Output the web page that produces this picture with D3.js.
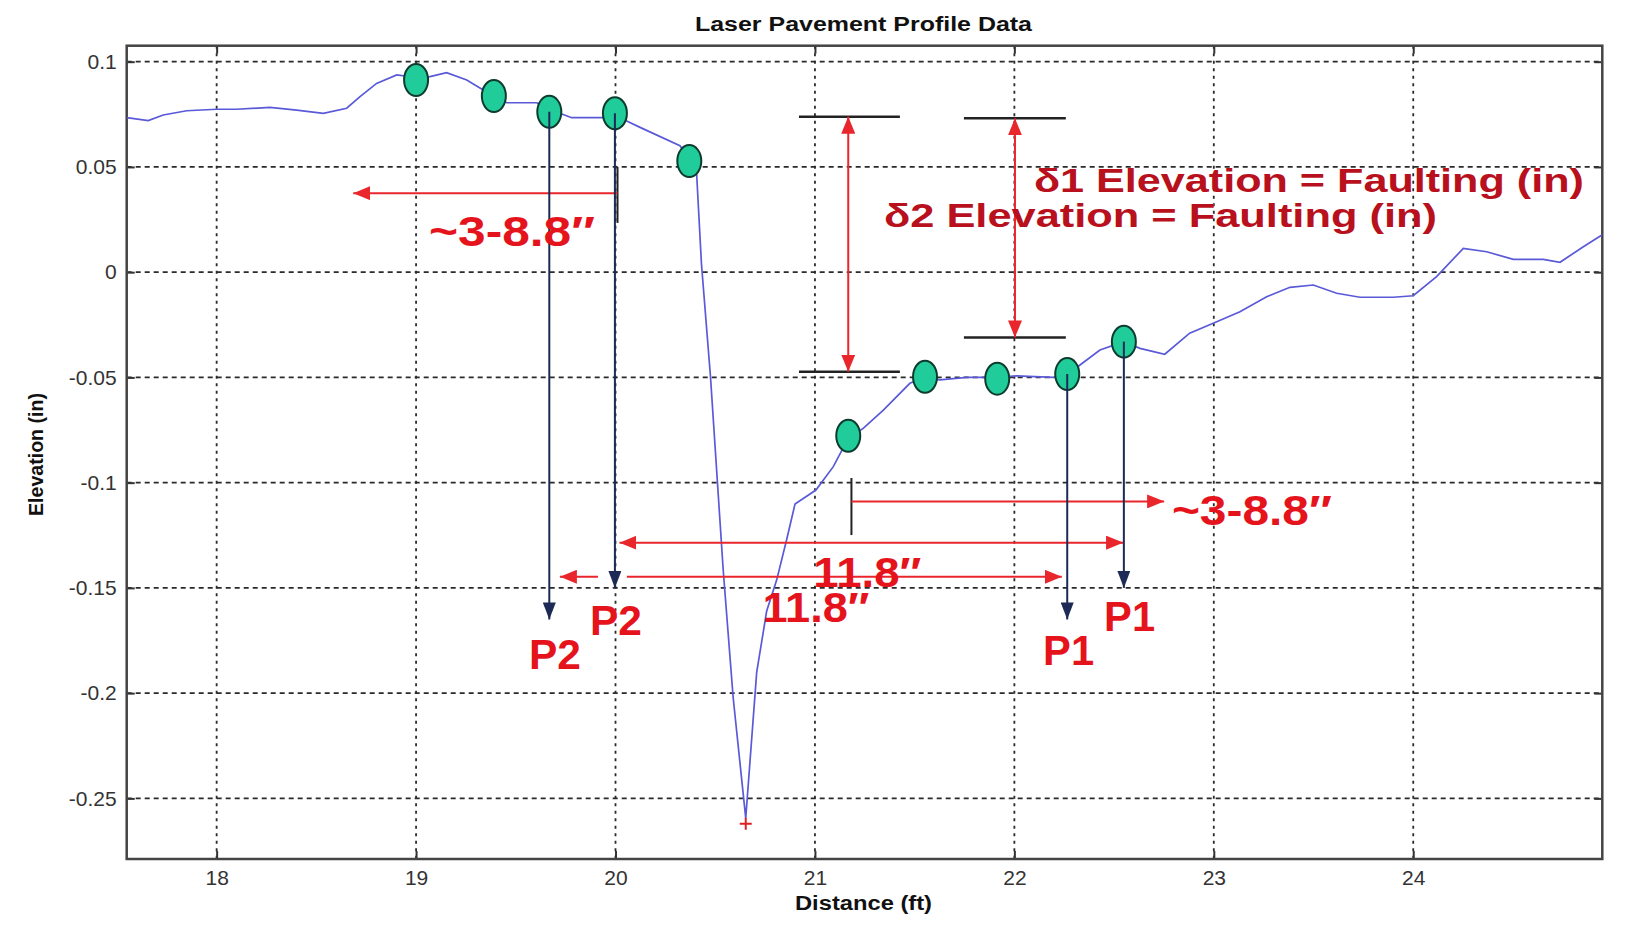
<!DOCTYPE html>
<html><head><meta charset="utf-8">
<script src="https://cdn.jsdelivr.net/npm/d3@7"></script>
<style>body{margin:0;background:#fff}</style>
</head><body><svg id="c" width="1629" height="931"></svg>
<script>
// ---------- data ----------
const titleText = "Laser Pavement Profile Data";
const xTitle = "Distance (ft)";
const yTitle = "Elevation (in)";
const xTicks = [18,19,20,21,22,23,24];
const xTickLabels = ["18","19","20","21","22","23","24"];
const yTicks = [0.1,0.05,0,-0.05,-0.1,-0.15,-0.2,-0.25];
const yTickLabels = ["0.1","0.05","0","-0.05","-0.1","-0.15","-0.2","-0.25"];

const profileX = [17.549,17.657,17.732,17.850,18.0,18.10,18.267,18.401,18.535,18.652,18.719,18.802,18.903,19.0,19.07,19.153,19.254,19.337,19.39,19.454,19.605,19.668,19.721,19.780,19.938,19.997,20.056,20.123,20.323,20.37,20.407,20.431,20.476,20.540,20.590,20.653,20.708,20.758,20.808,20.858,20.90,21.005,21.092,21.167,21.242,21.343,21.476,21.552,21.627,21.761,21.914,22.011,22.195,22.265,22.329,22.429,22.549,22.630,22.754,22.879,22.997,23.131,23.265,23.382,23.499,23.616,23.733,23.900,24.0,24.117,24.251,24.368,24.502,24.652,24.736,24.853,24.946];
const profileY = [0.0734,0.0720,0.0747,0.0767,0.0774,0.0774,0.0783,0.0770,0.0755,0.0779,0.0834,0.0897,0.0937,0.0925,0.0929,0.0948,0.0913,0.0866,0.0837,0.0805,0.0805,0.0775,0.0755,0.0734,0.0734,0.0737,0.0718,0.0688,0.0601,0.0540,0.0463,0.0039,-0.0493,-0.1415,-0.2022,-0.2594,-0.190,-0.161,-0.1463,-0.1271,-0.1102,-0.1035,-0.0924,-0.0790,-0.0742,-0.0655,-0.0528,-0.0500,-0.0512,-0.0500,-0.0500,-0.0493,-0.0500,-0.0490,-0.0441,-0.0370,-0.0330,-0.0362,-0.0390,-0.0290,-0.0243,-0.0188,-0.0117,-0.0072,-0.0061,-0.0100,-0.0119,-0.0119,-0.0112,-0.0021,0.0113,0.0097,0.0061,0.0061,0.0047,0.0121,0.0177];

const dotX = [19.0,19.390,19.668,19.997,20.370,21.167,21.552,21.914,22.265,22.549];
const dotY = [0.0913,0.0837,0.0762,0.0755,0.0528,-0.0777,-0.0497,-0.0506,-0.0484,-0.0330];

const minMarkX = [20.653];
const minMarkY = [-0.262];

// sensor arrows (from dot down to tip)
const sensorX    = [19.668,19.997,22.265,22.549];
const sensorTop  = [0.0762,0.0755,-0.0484,-0.0330];
const sensorTip  = [-0.165,-0.150,-0.165,-0.150];

// faulting reference bars
const barX0 = [20.92,21.747,20.92,21.747];
const barX1 = [21.426,22.258,21.426,22.258];
const barY  = [0.0739,0.0731,-0.0473,-0.0310];

// vertical double arrows (delta)
const deltaX   = [21.167,22.003];
const deltaTop = [0.0739,0.0731];
const deltaBot = [-0.0473,-0.0310];

// black stop ticks
const stopX  = [20.01,21.183];
const stopY0 = [0.0500,-0.0978];
const stopY1 = [0.0234,-0.1249];

// red horizontal arrows
const hArrowX0 = [20.01,21.183,20.02,19.721,20.057];
const hArrowX1 = [18.685,22.751,22.545,19.912,22.238];
const hArrowY  = [0.0375,-0.1089,-0.1285,-0.1447,-0.1447];
const hArrowStart = [false,false,true,true,false];
const hArrowEnd   = [true,true,true,false,true];

// text labels
const labelText = ["~3-8.8″","~3-8.8″","δ1 Elevation = Faulting (in)","δ2 Elevation = Faulting (in)","11.8″","11.8″","P2","P2","P1","P1"];
const labelX    = [19.065,22.790,22.098,21.346,20.992,20.737,19.566,19.872,22.144,22.450];
const labelY    = [0.0124,-0.1200,0.0380,0.0217,-0.1494,-0.1662,-0.1886,-0.1724,-0.1867,-0.1705];
const labelLen  = [166,160,550,553,108,107,52,52,51,51];
const labelKind = ["r","r","d","d","r","r","r","r","r","r"];

// ---------- drawing ----------
const svg = d3.select("#c");
const L=126.7,R=1602.3,T=45.7,B=859;
const x = d3.scaleLinear().domain([17.549,24.948]).range([L,R]);
const y = d3.scaleLinear().domain([-0.2788,0.1076]).range([B,T]);
const FONT = "'Liberation Sans', Arial, sans-serif";
const RED = "#e5141c", DRED = "#b8101c", NAVY = "#1c2a55", ARROWRED="#e8262c";

svg.append("rect").attr("width",1629).attr("height",931).attr("fill","#fff");

const defs = svg.append("defs");
defs.append("clipPath").attr("id","plot").append("rect").attr("x",L).attr("y",T).attr("width",R-L).attr("height",B-T);
function marker(id,color,w,l){
  defs.append("marker").attr("id",id).attr("viewBox",`0 0 ${l} ${w}`)
    .attr("refX",l).attr("refY",w/2).attr("markerWidth",l).attr("markerHeight",w)
    .attr("markerUnits","userSpaceOnUse").attr("orient","auto-start-reverse")
    .append("path").attr("d",`M0,0L${l},${w/2}L0,${w}Z`).attr("fill",color);
}
marker("ahRed",ARROWRED,14,17);
marker("ahNavy",NAVY,13,17);

// grid
const grid = svg.append("g");
grid.selectAll(".hg").data(yTicks).join("line")
  .attr("x1",L).attr("x2",R).attr("y1",d=>y(d)).attr("y2",d=>y(d))
  .attr("stroke","#2a2a2a").attr("stroke-width",1.8).attr("stroke-dasharray","5,4");
grid.selectAll(".vg").data(xTicks).join("line")
  .attr("y1",T).attr("y2",B).attr("x1",d=>x(d)).attr("x2",d=>x(d))
  .attr("stroke","#2a2a2a").attr("stroke-width",1.8).attr("stroke-dasharray","3,4.5");

// axes with inner ticks
function styleAxis(g){ g.select(".domain").remove(); g.selectAll(".tick line").attr("stroke","#333").attr("stroke-width",2);
  g.attr("font-family",FONT).attr("font-size",21); g.selectAll("text").attr("fill","#333"); }
svg.append("g").attr("transform",`translate(0,${B})`)
  .call(d3.axisBottom(x).tickValues(xTicks).tickFormat((d,i)=>xTickLabels[i]).tickSize(-8).tickPadding(11)).call(styleAxis);
svg.append("g").attr("transform",`translate(0,${T})`)
  .call(d3.axisTop(x).tickValues(xTicks).tickFormat("").tickSize(-8)).call(styleAxis);
svg.append("g").attr("transform",`translate(${L},0)`)
  .call(d3.axisLeft(y).tickValues(yTicks).tickFormat((d,i)=>yTickLabels[i]).tickSize(-8).tickPadding(10)).call(styleAxis);
svg.append("g").attr("transform",`translate(${R},0)`)
  .call(d3.axisRight(y).tickValues(yTicks).tickFormat("").tickSize(-8)).call(styleAxis);

// frame
svg.append("rect").attr("x",L).attr("y",T).attr("width",R-L).attr("height",B-T)
  .attr("fill","none").attr("stroke","#444").attr("stroke-width",2.5);

// profile line
const prof = profileX.map((d,i)=>[d,profileY[i]]);
svg.append("path").datum(prof).attr("clip-path","url(#plot)")
  .attr("d",d3.line().x(d=>x(d[0])).y(d=>y(d[1])))
  .attr("fill","none").attr("stroke","#5a5ad8").attr("stroke-width",1.7);

// min marker
minMarkX.forEach((mx,i)=>{
  const cx=x(mx), cy=y(minMarkY[i]);
  svg.append("path").attr("d",`M${cx-6},${cy}H${cx+6}M${cx},${cy-6}V${cy+6}`).attr("stroke","#e02020").attr("stroke-width",2);
});

// faulting bars
barY.forEach((by,i)=>{
  svg.append("line").attr("x1",x(barX0[i])).attr("x2",x(barX1[i])).attr("y1",y(by)).attr("y2",y(by))
    .attr("stroke","#222").attr("stroke-width",2.5);
});
// delta arrows
deltaX.forEach((dx,i)=>{
  svg.append("line").attr("x1",x(dx)).attr("x2",x(dx)).attr("y1",y(deltaTop[i])).attr("y2",y(deltaBot[i]))
    .attr("stroke",ARROWRED).attr("stroke-width",2)
    .attr("marker-start","url(#ahRed)").attr("marker-end","url(#ahRed)");
});
// stop ticks
stopX.forEach((sx,i)=>{
  svg.append("line").attr("x1",x(sx)).attr("x2",x(sx)).attr("y1",y(stopY0[i])).attr("y2",y(stopY1[i]))
    .attr("stroke","#222").attr("stroke-width",2);
});

// white box behind upper 11.8 label (cuts arrow line, as in reference)
svg.append("rect").attr("x",x(labelX[4])-2).attr("y",y(labelY[4])-17).attr("width",labelLen[4]+4).attr("height",13).attr("fill","#fff");

// horizontal red arrows
hArrowX0.forEach((hx,i)=>{
  const ln = svg.append("line").attr("x1",x(hx)).attr("x2",x(hArrowX1[i])).attr("y1",y(hArrowY[i])).attr("y2",y(hArrowY[i]))
    .attr("stroke",ARROWRED).attr("stroke-width",2);
  if(hArrowStart[i]) ln.attr("marker-start","url(#ahRed)");
  if(hArrowEnd[i]) ln.attr("marker-end","url(#ahRed)");
});

// dots
svg.selectAll(".dot").data(dotX).join("ellipse")
  .attr("cx",d=>x(d)).attr("cy",(d,i)=>y(dotY[i])).attr("rx",12).attr("ry",16)
  .attr("fill","#20cc9a").attr("stroke","#0e3b2e").attr("stroke-width",2);

// sensor arrows
sensorX.forEach((sx,i)=>{
  svg.append("line").attr("x1",x(sx)).attr("x2",x(sx)).attr("y1",y(sensorTop[i])).attr("y2",y(sensorTip[i]))
    .attr("stroke",NAVY).attr("stroke-width",2).attr("marker-end","url(#ahNavy)");
});

// labels
labelText.forEach((t,i)=>{
  const big = labelKind[i]==="d";
  svg.append("text").attr("x",x(labelX[i])).attr("y",y(labelY[i]))
    .attr("font-family",FONT).attr("font-weight","bold")
    .attr("font-size", big?34:42)
    .attr("fill", big?DRED:RED)
    .attr("textLength",labelLen[i]).attr("lengthAdjust","spacingAndGlyphs")
    .text(t);
});

// titles
svg.append("text").attr("x",695).attr("y",31).attr("font-family",FONT).attr("font-weight","bold")
  .attr("font-size",20).attr("fill","#111").attr("textLength",337).attr("lengthAdjust","spacingAndGlyphs").text(titleText);
svg.append("text").attr("x",795).attr("y",910).attr("font-family",FONT).attr("font-weight","bold")
  .attr("font-size",20).attr("fill","#111").attr("textLength",137).attr("lengthAdjust","spacingAndGlyphs").text(xTitle);
svg.append("text").attr("transform","translate(42.5,516) rotate(-90)").attr("font-family",FONT).attr("font-weight","bold")
  .attr("font-size",20).attr("fill","#111").attr("textLength",123).attr("lengthAdjust","spacingAndGlyphs").text(yTitle);
</script>
</body></html>
